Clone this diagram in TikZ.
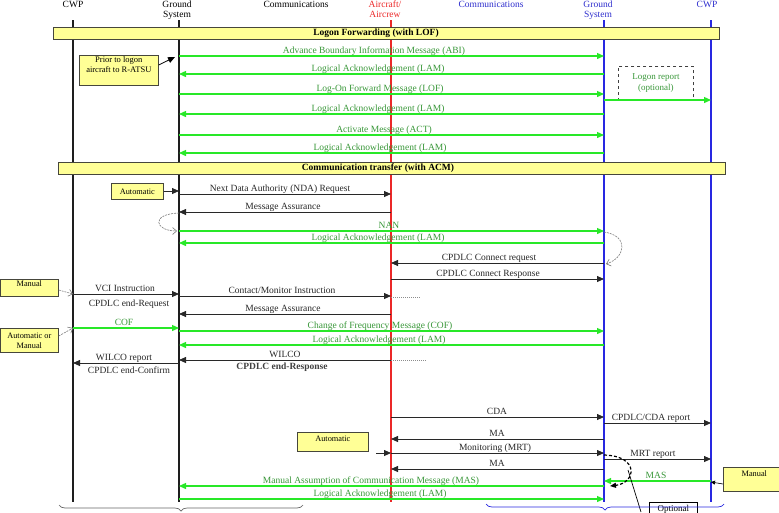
\documentclass[tikz,border=0pt]{standalone}
\usepackage{fontspec}
\setmainfont{Liberation Serif}
\usetikzlibrary{arrows.meta,decorations.pathreplacing}

\definecolor{lifeblack}{RGB}{30,30,30}
\definecolor{acred}{RGB}{235,40,40}
\definecolor{gsblue}{RGB}{40,40,225}
\definecolor{hdrblue}{RGB}{45,45,205}
\definecolor{msgblack}{RGB}{40,40,40}
\definecolor{grline}{RGB}{40,232,40}
\definecolor{grtext}{RGB}{55,150,55}
\definecolor{boxyellow}{RGB}{255,255,150}
\definecolor{boxedge}{RGB}{70,70,60}
\definecolor{curvegray}{RGB}{120,120,120}

\newcounter{msgno}
% #1 style (blk/grn), #2 from lifeline, #3 to lifeline, #4 y, #5 label x, #6 label
\newcommand\msg[6]{%
  \stepcounter{msgno}%
  \draw[#1] (#2 |- 0,#4) -- (#3 |- 0,#4);
  \node[#1lbl] (t\arabic{msgno}) at (#5,#4-3) {#6};}

\begin{document}
\begin{tikzpicture}[x=1pt,y=-1pt,
  every node/.style={font=\fontsize{9.5}{11}\selectfont},
  hdr/.style={anchor=base,inner sep=0pt},
  life/.style={line width=1.8pt},
  blk/.style={draw=msgblack,line width=0.8pt,-{Triangle[length=7pt,width=6pt]}},
  grn/.style={draw=grline,line width=1.3pt,-{Triangle[length=7pt,width=6pt]}},
  blklbl/.style={anchor=base,inner sep=0pt,text=black!85},
  grnlbl/.style={anchor=base,inner sep=0pt,text=grtext},
  bar/.style={draw=boxedge,fill=boxyellow,line width=0.8pt},
  bartext/.style={font=\fontsize{9.5}{11}\selectfont\bfseries,inner sep=0pt},
  ybox/.style={draw=boxedge,fill=boxyellow,line width=0.7pt,align=center,
    inner sep=1pt,font=\fontsize{8.3}{10}\selectfont},
  curv/.style={draw=curvegray,line width=0.6pt,dash pattern=on 2pt off 1pt,
    -{Straight Barb[length=4pt,width=7pt]}},
  dotgray/.style={draw=black!45,line width=0.4pt,dash pattern=on 1pt off 1pt}]

\useasboundingbox (0,0) rectangle (779,512);

% column headers
\node[hdr] (h1) at (73,7.5) {CWP};
\node[hdr] (h2a) at (177,7.5) {Ground};
\node[hdr] (h2b) at (177,17.5) {System};
\node[hdr] (h3) at (296,7.5) {Communications};
\node[hdr,text=acred] (h4a) at (385,7.5) {Aircraft/};
\node[hdr,text=acred] (h4b) at (385,17.5) {Aircrew};
\node[hdr,text=hdrblue] (h5) at (491,7.5) {Communications};
\node[hdr,text=hdrblue] (h6a) at (598,7.5) {Ground};
\node[hdr,text=hdrblue] (h6b) at (598,17.5) {System};
\node[hdr,text=hdrblue] (h7) at (707,7.5) {CWP};

% lifelines
\coordinate (cwpL) at (73,20);
\coordinate (gsL) at (179,20);
\coordinate (ac) at (391,20);
\coordinate (gsR) at (604,20);
\coordinate (cwpR) at (711,20);
\draw[life,lifeblack] (cwpL) -- (cwpL |- 0,502);
\draw[life,lifeblack] (gsL) -- (gsL |- 0,502);
\draw[life,acred] (ac) -- (ac |- 0,502);
\draw[life,gsblue] (gsR) -- (gsR |- 0,502);
\draw[life,gsblue] (cwpR) -- (cwpR |- 0,502);

% ---- Logon forwarding ----
\draw[bar] (53,27) rectangle (719,39);
\node[bartext] (s1) at (376,33) {Logon Forwarding (with LOF)};

\node[ybox,anchor=north west,minimum width=79pt,minimum height=28pt,
  font=\fontsize{8.5}{10}\selectfont] (prior) at (79,55) {Prior to logon\\aircraft to R-ATSU\\[2pt]};
\coordinate (priortip) at (175,57);
\draw[draw=black,line width=0.8pt,-{Triangle[length=7pt,width=6pt]}]
  (prior.east |- 0,65) -- (priortip);

\node[draw=black!75,dashed,line width=0.8pt,anchor=north west,minimum width=75pt,
  minimum height=34pt,align=center,text=grtext,inner sep=1pt,
  font=\fontsize{9}{11}\selectfont] (logrep) at (618,66) {Logon report\\(optional)};

\msg{grn}{gsL}{gsR}{56}{374}{Advance Boundary Information Message (ABI)}
\msg{grn}{gsR}{gsL}{74}{378}{Logical Acknowledgement (LAM)}
\msg{grn}{gsL}{gsR}{94}{380}{Log-On Forward Message (LOF)}
\draw[grn] (gsR |- 0,100) -- (cwpR |- 0,100);
\msg{grn}{gsR}{gsL}{114}{378}{Logical Acknowledgement (LAM)}
\msg{grn}{gsL}{gsR}{135}{384}{Activate Message (ACT)}
\msg{grn}{gsR}{gsL}{153}{380}{Logical Acknowledgement (LAM)}

% ---- Communication transfer ----
\draw[bar] (58,162) rectangle (725,174);
\node[bartext] (s2) at (378,168) {Communication transfer (with ACM)};

\node[ybox,anchor=north west,minimum width=52pt,minimum height=16pt] (auto1) at (111,183) {Automatic};
\draw[blk] (auto1.east |- 0,191) -- (gsL |- 0,191);

\msg{blk}{gsL}{ac}{194}{280}{Next Data Authority (NDA) Request}
\msg{blk}{ac}{gsL}{212}{283}{Message Assurance}
\msg{grn}{gsL}{gsR}{231}{389}{NAN}
\msg{grn}{gsR}{gsL}{243}{378}{Logical Acknowledgement (LAM)}
\draw[curv] (gsL |- 0,213) .. controls (150,214) and (155,231) .. (177,231);
\msg{blk}{gsR}{ac}{263}{489}{CPDLC Connect request}
\msg{blk}{ac}{gsR}{279}{488}{CPDLC Connect Response}
\draw[curv] (gsR |- 0,232) .. controls (630,236) and (625,258) .. (606,264);

\node[ybox,anchor=north west,minimum width=58pt,minimum height=17pt] (man1) at (0,279) {Manual\\[-2pt]};
\draw[curv] (man1.east |- 0,290) -- (cwpL |- 0,294);
\msg{blk}{cwpL}{gsL}{294}{125}{VCI Instruction}
\node[blklbl] (vci2) at (129,306) {CPDLC end-Request};
\msg{blk}{gsL}{ac}{296}{282}{Contact/Monitor Instruction}
\coordinate (cmdot) at (420,297);
\draw[dotgray] (ac |- 0,297) -- (cmdot);
\msg{blk}{ac}{gsL}{314}{283}{Message Assurance}

\node[ybox,anchor=north west,minimum width=58pt,minimum height=24pt] (man2) at (0,328) {Automatic or\\Manual};
\draw[curv] (man2.east |- 0,336) -- (cwpL |- 0,328);
\msg{grn}{cwpL}{gsL}{328}{124}{COF}
\msg{grn}{gsL}{gsR}{331}{380}{Change of Frequency Message (COF)}
\msg{grn}{gsR}{gsL}{345}{379}{Logical Acknowledgement (LAM)}
\msg{blk}{ac}{gsL}{360}{285}{WILCO}
\node[blklbl,font=\fontsize{9.5}{11}\selectfont\bfseries,text=black!75] (wil2) at (282,369) {CPDLC end-Response};
\coordinate (wildot) at (426,360);
\draw[dotgray] (ac |- 0,360) -- (wildot);
\msg{blk}{gsL}{cwpL}{363}{124}{WILCO report}
\node[blklbl] (wr2) at (129,373) {CPDLC end-Confirm};

% ---- assumption of communication ----
\msg{blk}{ac}{gsR}{417}{497}{CDA}
\msg{blk}{gsR}{cwpR}{423}{651}{CPDLC/CDA report}
\msg{blk}{gsR}{ac}{439}{497}{MA}
\node[ybox,anchor=north west,minimum width=71pt,minimum height=19pt] (auto2) at (297,432) {Automatic\\[-3pt]};
\coordinate (auto2a) at (376,453);
\draw[blk] (auto2a) -- (ac |- 0,453);
\msg{blk}{ac}{gsR}{453}{495}{Monitoring (MRT)}
\msg{blk}{gsR}{cwpR}{459}{653}{MRT report}
\msg{blk}{gsR}{ac}{469}{497}{MA}
\msg{grn}{cwpR}{gsR}{481}{656}{MAS}
\msg{grn}{gsR}{gsL}{486}{371}{Manual Assumption of Communication Message (MAS)}
\msg{grn}{gsL}{gsR}{499}{380}{Logical Acknowledgement (LAM)}

\node[ybox,anchor=north west,minimum width=62pt,minimum height=24pt] (man3) at (723,467) {Manual\\[1pt]};
\draw[draw=black,line width=0.6pt,-{Triangle[length=4pt,width=4pt]}] (man3.west |- 0,484) -- (cwpR |- 0,482);

% optional hand-over path
\draw[line width=1.2pt,dash pattern=on 3pt off 2pt,-{Triangle[length=6pt,width=5pt]}]
  (gsR |- 0,455) .. controls (640,456) and (636,483) .. (610,486);
\node[draw=black,fill=white,line width=0.7pt,anchor=north west,minimum width=48pt,
  minimum height=14pt,inner sep=1pt,font=\fontsize{9}{11}\selectfont] (opt) at (649,502) {Optional};
\coordinate (optfoot) at (641,512);
\coordinate (optpt) at (628,470);
\draw[line width=0.7pt] (optpt) -- (optfoot);

% braces
\draw[draw=black!60,line width=0.7pt,decorate,decoration={brace,mirror,amplitude=6pt}]
  (59,505) -- (303,505);
\draw[draw=gsblue,line width=0.7pt,decorate,decoration={brace,mirror,amplitude=6pt}]
  (486,504) -- (724,504);
\end{tikzpicture}
\end{document}
